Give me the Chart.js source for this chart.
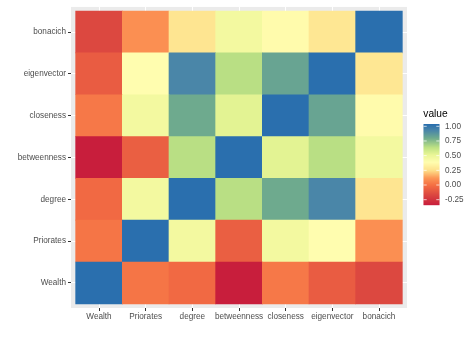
<!DOCTYPE html>
<html>
<head>
<meta charset="utf-8">
<script src="https://cdn.jsdelivr.net/npm/chart.js@4.4.0/dist/chart.umd.min.js"></script>
<style>
  html, body { margin: 0; padding: 0; background: #fff; }
</style>
</head>
<body>
<canvas id="heat" width="474" height="338"></canvas>
<script>
const vars = ['Wealth', 'Priorates', 'degree', 'betweenness', 'closeness', 'eigenvector', 'bonacich'];

// correlation matrix, one row per variable (same order as vars)
const wealth      = [ 1.00,  0.02, -0.02, -0.32,  0.03, -0.07, -0.15];
const priorates   = [ 0.02,  1.00,  0.45, -0.06,  0.45,  0.38,  0.10];
const degree      = [-0.02,  0.45,  1.00,  0.63,  0.78,  0.90,  0.27];
const betweenness = [-0.32, -0.06,  0.63,  1.00,  0.52,  0.63,  0.45];
const closeness   = [ 0.03,  0.45,  0.78,  0.52,  1.00,  0.80,  0.37];
const eigenvector = [-0.07,  0.38,  0.90,  0.63,  0.80,  1.00,  0.28];
const bonacich    = [-0.15,  0.10,  0.27,  0.45,  0.37,  0.28,  1.00];
const rows = [wealth, priorates, degree, betweenness, closeness, eigenvector, bonacich];

const legendTicks = [1.00, 0.75, 0.50, 0.25, 0.00, -0.25];
const valueMin = -0.32;
const valueMax = 1.00;

// spectral-ish ramp
const palette = [
  [-0.32, [200, 30, 60]],
  [-0.15, [220, 72, 64]],
  [0.00, [244, 110, 67]],
  [0.12, [252, 150, 85]],
  [0.25, [254, 225, 139]],
  [0.38, [255, 253, 175]],
  [0.50, [234, 246, 150]],
  [0.62, [190, 226, 131]],
  [0.78, [110, 170, 142]],
  [0.90, [74, 134, 168]],
  [1.00, [42, 111, 174]]
];

function colour(v) {
  if (v <= palette[0][0]) return 'rgb(' + palette[0][1].join(',') + ')';
  for (let i = 1; i < palette.length; i++) {
    if (v <= palette[i][0]) {
      const a = palette[i - 1], b = palette[i];
      const t = (v - a[0]) / (b[0] - a[0]);
      const c = a[1].map((x, k) => Math.round(x + (b[1][k] - x) * t));
      return 'rgb(' + c.join(',') + ')';
    }
  }
  return 'rgb(' + palette[palette.length - 1][1].join(',') + ')';
}

const FONT = '"Liberation Sans", Arial, Helvetica, sans-serif';

const datasets = rows.map((row, i) => ({
  label: vars[i],
  data: row.map((v, j) => ({ x: j + 0.5, y: [i, i + 1] })),
  backgroundColor: row.map(v => colour(v)),
  borderWidth: 0,
  grouped: false,
  barPercentage: 1,
  categoryPercentage: 1
}));

function centreTicks(scale) {
  scale.ticks = vars.map((v, i) => ({ value: i + 0.5 }));
}

const panelBg = {
  id: 'panelBg',
  beforeDraw(chart) {
    const { ctx, chartArea: a } = chart;
    ctx.save();
    ctx.fillStyle = '#EBEBEB';
    ctx.fillRect(a.left, a.top, a.right - a.left, a.bottom - a.top);
    ctx.restore();
  }
};

const colourBar = {
  id: 'colourBar',
  afterDraw(chart) {
    const ctx = chart.ctx;
    const left = 423.5, width = 16, top = 124, height = 80.4;
    ctx.save();
    // bar
    for (let p = 0; p < height; p++) {
      const v = valueMax - (p / height) * (valueMax - valueMin);
      ctx.fillStyle = colour(v);
      ctx.fillRect(left, top + p, width, 1.2);
    }
    // ticks and labels
    ctx.font = '8.2px ' + FONT;
    ctx.fillStyle = '#4D4D4D';
    ctx.textAlign = 'left';
    ctx.textBaseline = 'middle';
    legendTicks.forEach(t => {
      const y = 126.3 + (1 - t) * 58.7;
      ctx.strokeStyle = 'rgba(255,255,255,0.9)';
      ctx.lineWidth = 0.8;
      ctx.beginPath();
      ctx.moveTo(left, y); ctx.lineTo(left + 3.2, y);
      ctx.moveTo(left + width - 3.2, y); ctx.lineTo(left + width, y);
      ctx.stroke();
      ctx.fillText(t.toFixed(2), 445, y);
    });
    ctx.font = '10.2px ' + FONT;
    ctx.fillStyle = '#000';
    ctx.fillText('value', 423.3, 114.3);
    ctx.restore();
  }
};

new Chart(document.getElementById('heat'), {
  type: 'bar',
  data: { datasets: datasets },
  options: {
    responsive: false,
    animation: false,
    devicePixelRatio: 1,
    layout: { padding: { top: 5, right: 67, left: 0, bottom: 0 } },
    plugins: {
      legend: { display: false },
      tooltip: { enabled: false }
    },
    scales: {
      x: {
        type: 'linear',
        position: 'bottom',
        offset: false,
        min: -0.1,
        max: 7.1,
        afterBuildTicks: centreTicks,
        afterFit: s => { s.height = 30; },
        border: { display: false },
        grid: { offset: false, color: '#FFFFFF', lineWidth: 1, tickColor: '#333333', tickLength: 3 },
        ticks: {
          autoSkip: false,
          maxRotation: 0,
          padding: 1,
          color: '#4D4D4D',
          font: { family: FONT, size: 8.2 },
          callback: v => vars[Math.round(v - 0.5)]
        }
      },
      y: {
        type: 'linear',
        offset: false,
        min: -0.1,
        max: 7.1,
        afterBuildTicks: centreTicks,
        afterFit: s => { s.width = 71; },
        border: { display: false },
        grid: { offset: false, color: '#FFFFFF', lineWidth: 1, tickColor: '#333333', tickLength: 3 },
        ticks: {
          autoSkip: false,
          padding: 2,
          color: '#4D4D4D',
          font: { family: FONT, size: 8.2 },
          callback: v => vars[Math.round(v - 0.5)]
        }
      }
    }
  },
  plugins: [panelBg, colourBar]
});
</script>
</body>
</html>
